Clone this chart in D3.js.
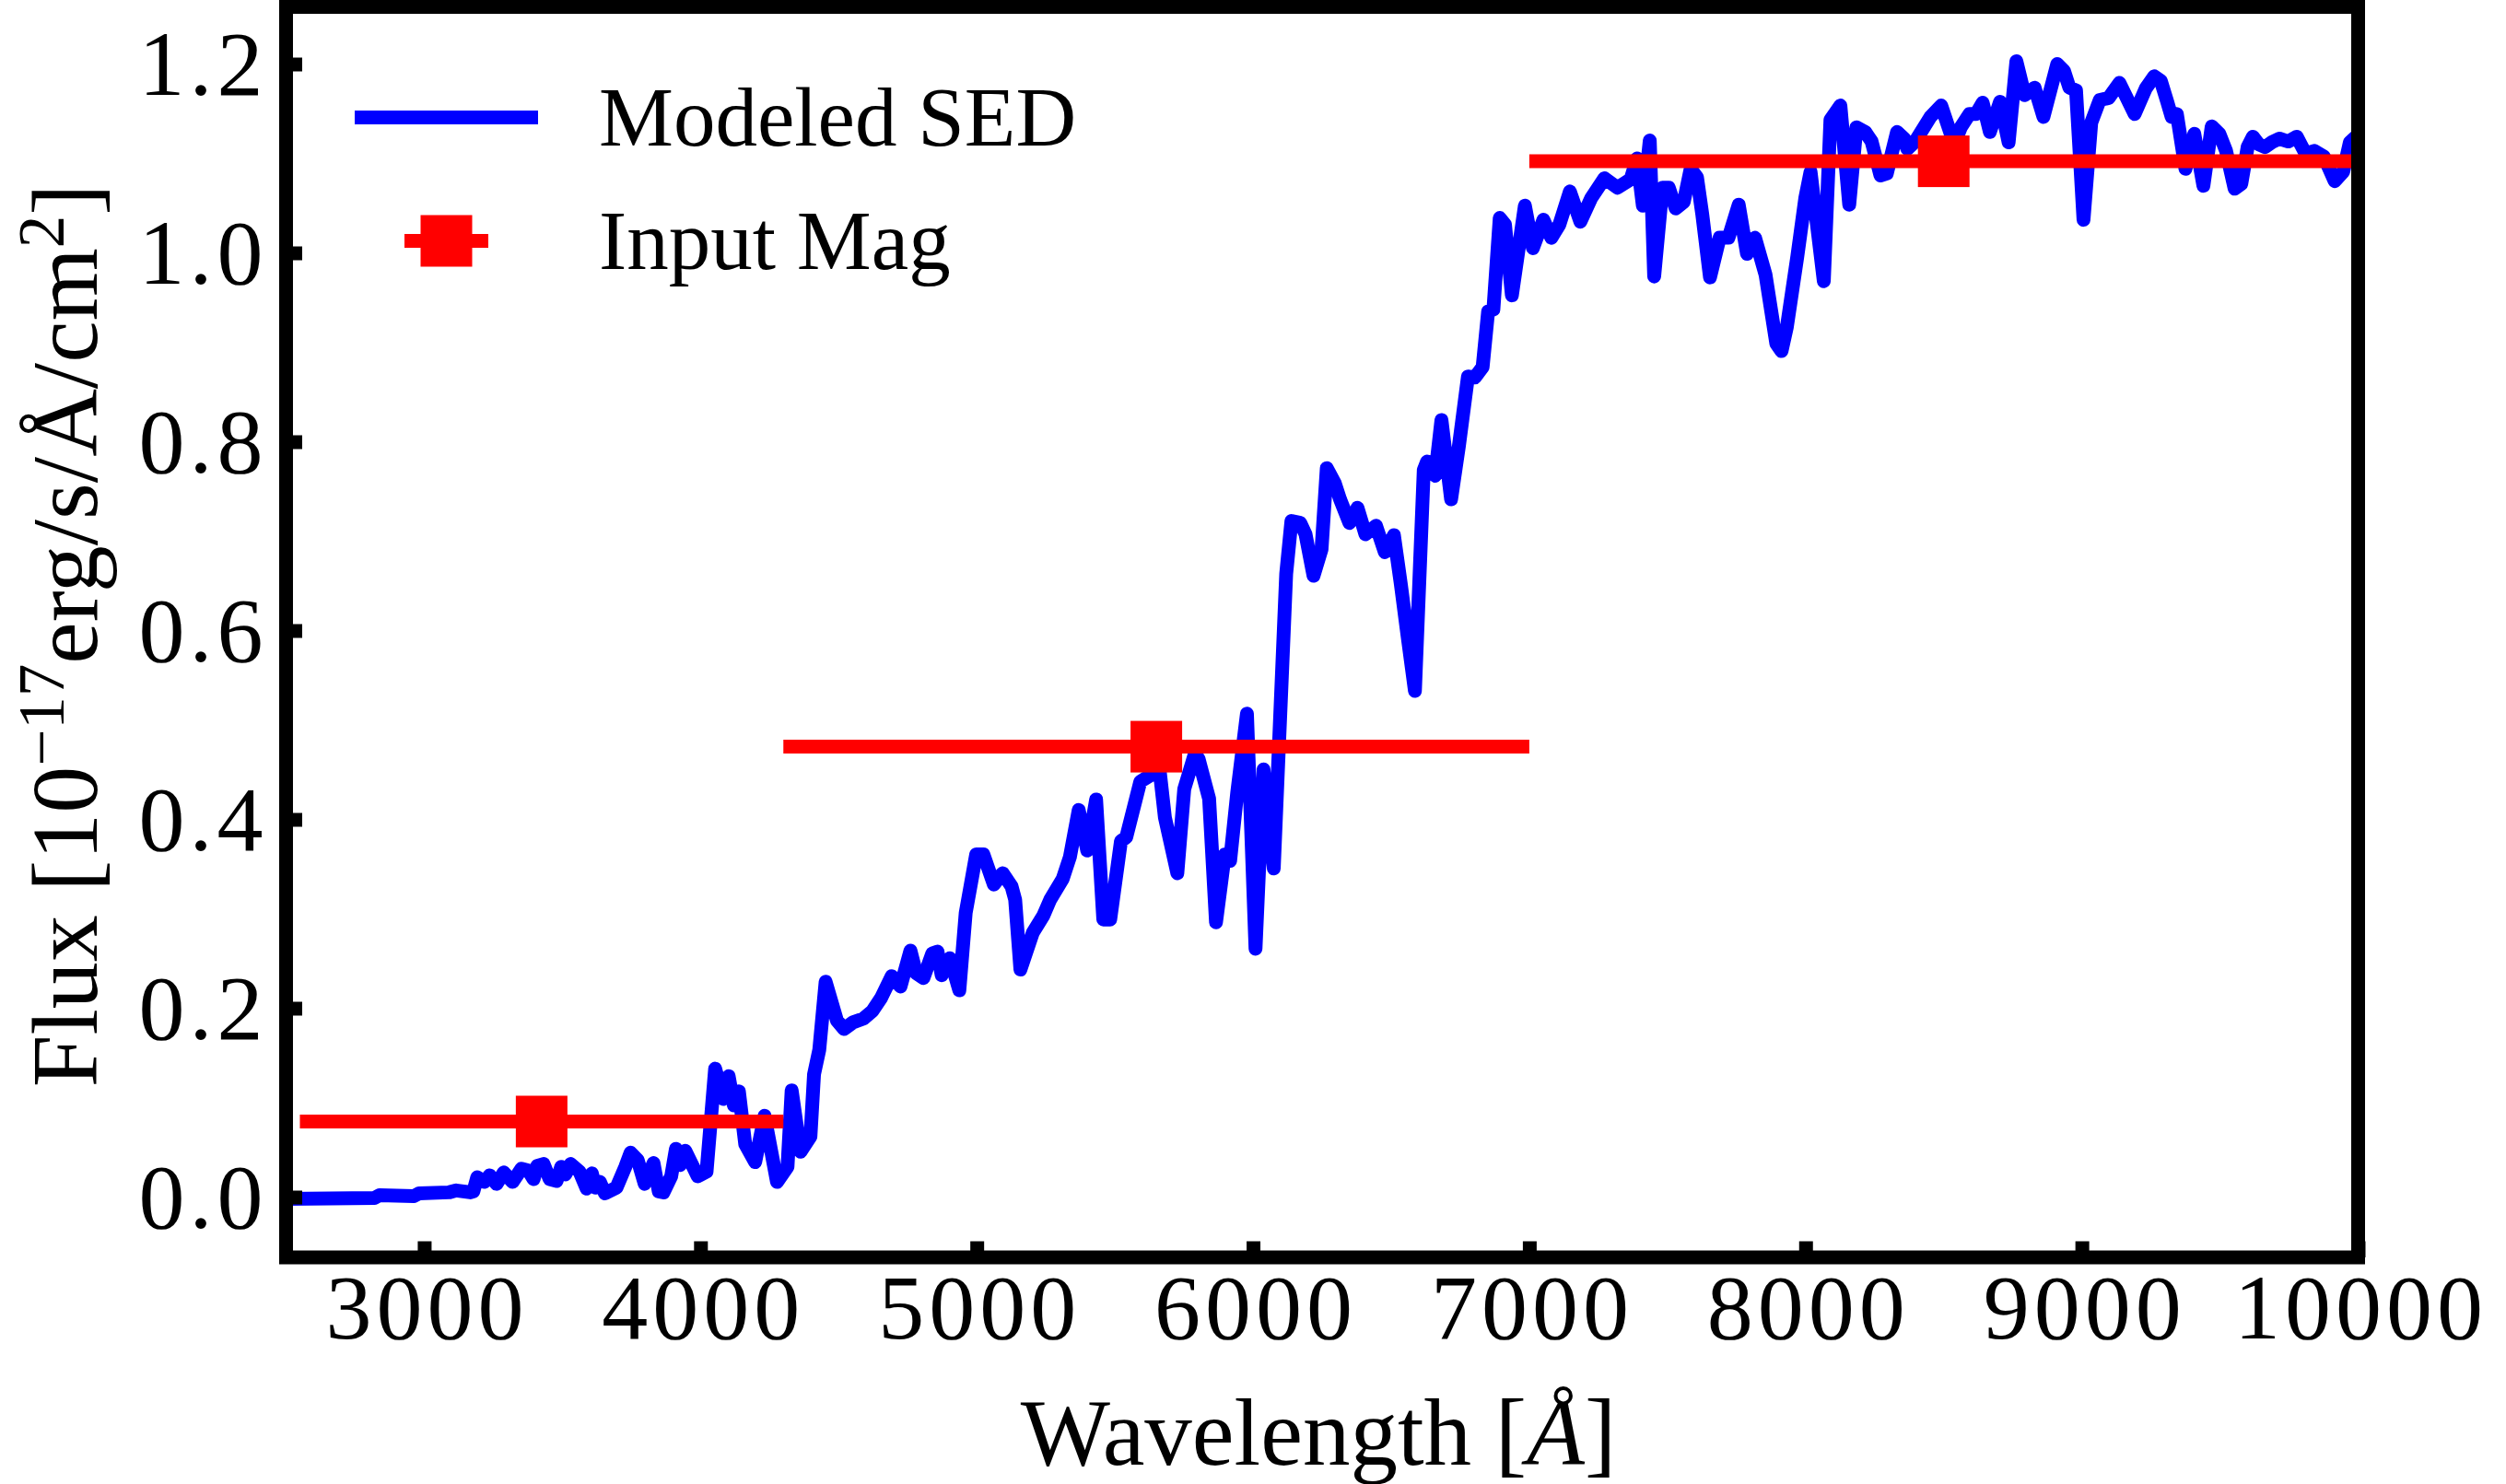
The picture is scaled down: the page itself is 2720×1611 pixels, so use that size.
<!DOCTYPE html>
<html>
<head>
<meta charset="utf-8">
<script src="https://cdn.jsdelivr.net/npm/d3@7"></script>
<style>
  body { margin: 0; background: #fff; }
  text { font-family: "Liberation Serif", "Times New Roman", serif; fill: #000; }
</style>
</head>
<body>
<svg id="chart" width="2720" height="1611"></svg>
<script>
// modeled SED, wavelength in Angstrom and flux in 1e-17 erg/s/A/cm^2
var wavelength = [
  2500, 2820, 2838, 2963, 2982, 3090, 3116, 3167, 3178, 3192, 3218, 3237, 3262, 3288, 3320, 3352,
  3377, 3396, 3409, 3432, 3454, 3479, 3496, 3511, 3530, 3562, 3588, 3607, 3620, 3636, 3654, 3696,
  3728, 3747, 3773, 3798, 3830, 3849, 3866, 3894, 3911, 3926, 3945, 3990, 4022, 4053, 4083, 4102,
  4121, 4139, 4162, 4198, 4232, 4277, 4315, 4330, 4362, 4398, 4411, 4430, 4453, 4494, 4520, 4552,
  4590, 4622, 4654, 4692, 4724, 4760, 4781, 4807, 4839, 4858, 4873, 4903, 4937, 4960, 4998, 5024,
  5062, 5094, 5126, 5139, 5158, 5203, 5241, 5266, 5311, 5337, 5369, 5400, 5432, 5458, 5483, 5522,
  5541, 5592, 5630, 5655, 5681, 5726, 5751, 5790, 5803, 5841, 5866, 5898, 5917, 5943, 5978, 6009,
  6038, 6075, 6120, 6139, 6171, 6190, 6219, 6248, 6267, 6296, 6315, 6349, 6378, 6407, 6445, 6477,
  6510, 6535, 6560, 6586, 6618, 6630, 6659, 6682, 6717, 6745, 6778, 6803, 6831, 6851, 6870, 6893,
  6912, 6937, 6984, 7013, 7051, 7080, 7109, 7147, 7185, 7224, 7272, 7319, 7367, 7390, 7411, 7436,
  7452, 7482, 7505, 7530, 7559, 7584, 7607, 7626, 7654, 7689, 7721, 7758, 7788, 7817, 7855, 7894,
  7913, 7932, 7970, 7999, 8018, 8066, 8090, 8126, 8158, 8184, 8216, 8239, 8271, 8294, 8331, 8357,
  8368, 8397, 8452, 8491, 8538, 8562, 8593, 8617, 8641, 8667, 8704, 8735, 8763, 8793, 8829, 8861,
  8911, 8935, 8955, 8979, 9006, 9034, 9065, 9097, 9136, 9191, 9231, 9262, 9286, 9309, 9325, 9344,
  9375, 9407, 9440, 9470, 9498, 9522, 9553, 9577, 9600, 9619, 9640, 9663, 9687, 9715, 9747, 9778,
  9810, 9841, 9876, 9915, 9946, 9970, 10000
];
var flux = [
  -0.002, -0.001, 0.002, 0.001, 0.004, 0.005, 0.007, 0.005, 0.006, 0.021, 0.016, 0.023, 0.014, 0.026, 0.016, 0.030,
  0.028, 0.019, 0.033, 0.035, 0.019, 0.017, 0.032, 0.024, 0.035, 0.027, 0.009, 0.025, 0.010, 0.016, 0.004, 0.010,
  0.032, 0.047, 0.039, 0.014, 0.036, 0.006, 0.005, 0.022, 0.051, 0.034, 0.049, 0.022, 0.027, 0.136, 0.104, 0.128,
  0.097, 0.112, 0.056, 0.037, 0.086, 0.016, 0.032, 0.113, 0.048, 0.064, 0.130, 0.156, 0.228, 0.187, 0.178, 0.185,
  0.189, 0.197, 0.211, 0.234, 0.223, 0.261, 0.237, 0.232, 0.258, 0.260, 0.235, 0.253, 0.219, 0.301, 0.363, 0.363,
  0.331, 0.343, 0.329, 0.315, 0.241, 0.280, 0.298, 0.315, 0.337, 0.360, 0.410, 0.367, 0.421, 0.294, 0.294, 0.377,
  0.381, 0.440, 0.447, 0.470, 0.402, 0.343, 0.432, 0.470, 0.464, 0.422, 0.291, 0.363, 0.356, 0.429, 0.512, 0.263,
  0.453, 0.348, 0.660, 0.716, 0.714, 0.702, 0.658, 0.686, 0.772, 0.756, 0.739, 0.714, 0.730, 0.702, 0.711, 0.683,
  0.701, 0.649, 0.593, 0.536, 0.770, 0.779, 0.764, 0.823, 0.739, 0.795, 0.869, 0.868, 0.879, 0.938, 0.940, 1.037,
  1.030, 0.955, 1.050, 1.005, 1.035, 1.016, 1.030, 1.065, 1.033, 1.058, 1.079, 1.069, 1.078, 1.100, 1.050, 1.119,
  0.975, 1.069, 1.069, 1.047, 1.054, 1.089, 1.080, 1.041, 0.974, 1.016, 1.016, 1.051, 0.999, 1.016, 0.977, 0.904,
  0.896, 0.921, 0.996, 1.058, 1.086, 0.970, 1.141, 1.156, 1.051, 1.133, 1.128, 1.118, 1.082, 1.084, 1.128, 1.121,
  1.110, 1.118, 1.144, 1.156, 1.115, 1.133, 1.147, 1.147, 1.159, 1.128, 1.160, 1.117, 1.203, 1.167, 1.175, 1.144,
  1.200, 1.193, 1.175, 1.172, 1.035, 1.138, 1.162, 1.164, 1.180, 1.147, 1.174, 1.187, 1.182, 1.160, 1.144, 1.147,
  1.089, 1.126, 1.071, 1.134, 1.126, 1.108, 1.068, 1.073, 1.112, 1.123, 1.115, 1.112, 1.117, 1.121, 1.118, 1.123,
  1.105, 1.108, 1.102, 1.076, 1.086, 1.117, 1.125
];

// input magnitudes: band edges, band centre and flux
var magLow = [2550, 4300, 7000];
var magHigh = [4300, 7000, 10000];
var magCenter = [3425, 5650, 8500];
var magFlux = [0.080, 0.477, 1.097];

var xTicks = [3000, 4000, 5000, 6000, 7000, 8000, 9000, 10000];
var yTicks = [0, 0.2, 0.4, 0.6, 0.8, 1.0, 1.2];

var svg = d3.select("#chart");

var x = d3.scaleLinear().domain([2500, 10000]).range([310.5, 2559.5]);
var y = d3.scaleLinear().domain([-0.0639, 1.2605]).range([1365, 7.5]);

var blue = "#0000ff", red = "#ff0000";

// spectrum
var sed = wavelength.map(function(w, i) { return [w, flux[i]]; });
svg.append("path")
  .datum(sed)
  .attr("d", d3.line().x(function(d) { return x(d[0]); }).y(function(d) { return y(d[1]); }))
  .attr("fill", "none")
  .attr("stroke", blue)
  .attr("stroke-width", 15)
  .attr("stroke-linejoin", "round");

// error bars + square markers
var mags = magCenter.map(function(c, i) {
  return { c: c, lo: magLow[i], hi: magHigh[i], f: magFlux[i] };
});
svg.selectAll(".ebar").data(mags).enter().append("line")
  .attr("class", "ebar")
  .attr("x1", function(d) { return x(d.lo); })
  .attr("x2", function(d) { return x(d.hi); })
  .attr("y1", function(d) { return y(d.f); })
  .attr("y2", function(d) { return y(d.f); })
  .attr("stroke", red)
  .attr("stroke-width", 15);
svg.selectAll(".mark").data(mags).enter().append("rect")
  .attr("class", "mark")
  .attr("x", function(d) { return x(d.c) - 28; })
  .attr("y", function(d) { return y(d.f) - 28; })
  .attr("width", 56)
  .attr("height", 56)
  .attr("fill", red);

// axes (ticks inside the frame)
var xAxis = svg.append("g").attr("transform", "translate(0,1365)")
  .call(d3.axisBottom(x).tickValues(xTicks).tickSize(-17.5).tickPadding(0).tickFormat(d3.format("d")));
var yAxis = svg.append("g").attr("transform", "translate(310.5,0)")
  .call(d3.axisLeft(y).tickValues(yTicks).tickSize(-17.5).tickPadding(0).tickFormat(d3.format(".1f")));

[xAxis, yAxis].forEach(function(g) {
  g.select(".domain").remove();
  g.selectAll(".tick line").attr("stroke", "#000").attr("stroke-width", 15);
  g.selectAll(".tick text")
    .style("font-family", '"Liberation Serif", "Times New Roman", serif')
    .attr("font-size", 100)
    .attr("letter-spacing", 5)
    .attr("fill", "#000");
});
xAxis.selectAll(".tick text").attr("y", 88).attr("dy", 0).attr("dx", 2.5);
yAxis.selectAll(".tick text").attr("x", -20).attr("dy", "0.33em").attr("text-anchor", "end");

// frame
svg.append("rect")
  .attr("x", 310.5).attr("y", 7.5)
  .attr("width", 2249).attr("height", 1357.5)
  .attr("fill", "none")
  .attr("stroke", "#000")
  .attr("stroke-width", 15);

// axis titles
var xt = svg.append("text")
  .attr("x", 1431).attr("y", 1590)
  .attr("text-anchor", "middle")
  .attr("font-size", 103);
xt.append("tspan").text("Wavelength [");
xt.append("tspan").attr("font-style", "italic").text("\u00C5");
xt.append("tspan").text("]");

var yt = svg.append("text")
  .attr("transform", "translate(105,690) rotate(-90)")
  .attr("text-anchor", "middle")
  .attr("font-size", 102);
yt.append("tspan").text("Flux [10");
yt.append("tspan").attr("font-size", 71).attr("dy", -36).text("\u221217");
yt.append("tspan").attr("dy", 36).text("erg/s/\u00C5/cm");
yt.append("tspan").attr("font-size", 71).attr("dy", -36).text("2");
yt.append("tspan").attr("dy", 36).text("]");

// legend
var leg = svg.append("g");
leg.append("line")
  .attr("x1", 385).attr("x2", 584).attr("y1", 127.5).attr("y2", 127.5)
  .attr("stroke", blue).attr("stroke-width", 15);
leg.append("line")
  .attr("x1", 439).attr("x2", 530).attr("y1", 261.5).attr("y2", 261.5)
  .attr("stroke", red).attr("stroke-width", 15);
leg.append("rect")
  .attr("x", 456.5).attr("y", 233.5).attr("width", 56).attr("height", 56)
  .attr("fill", red);
leg.append("text").attr("x", 650).attr("y", 158).attr("font-size", 91).text("Modeled SED");
leg.append("text").attr("x", 650).attr("y", 292).attr("font-size", 91).text("Input Mag");
</script>
</body>
</html>
